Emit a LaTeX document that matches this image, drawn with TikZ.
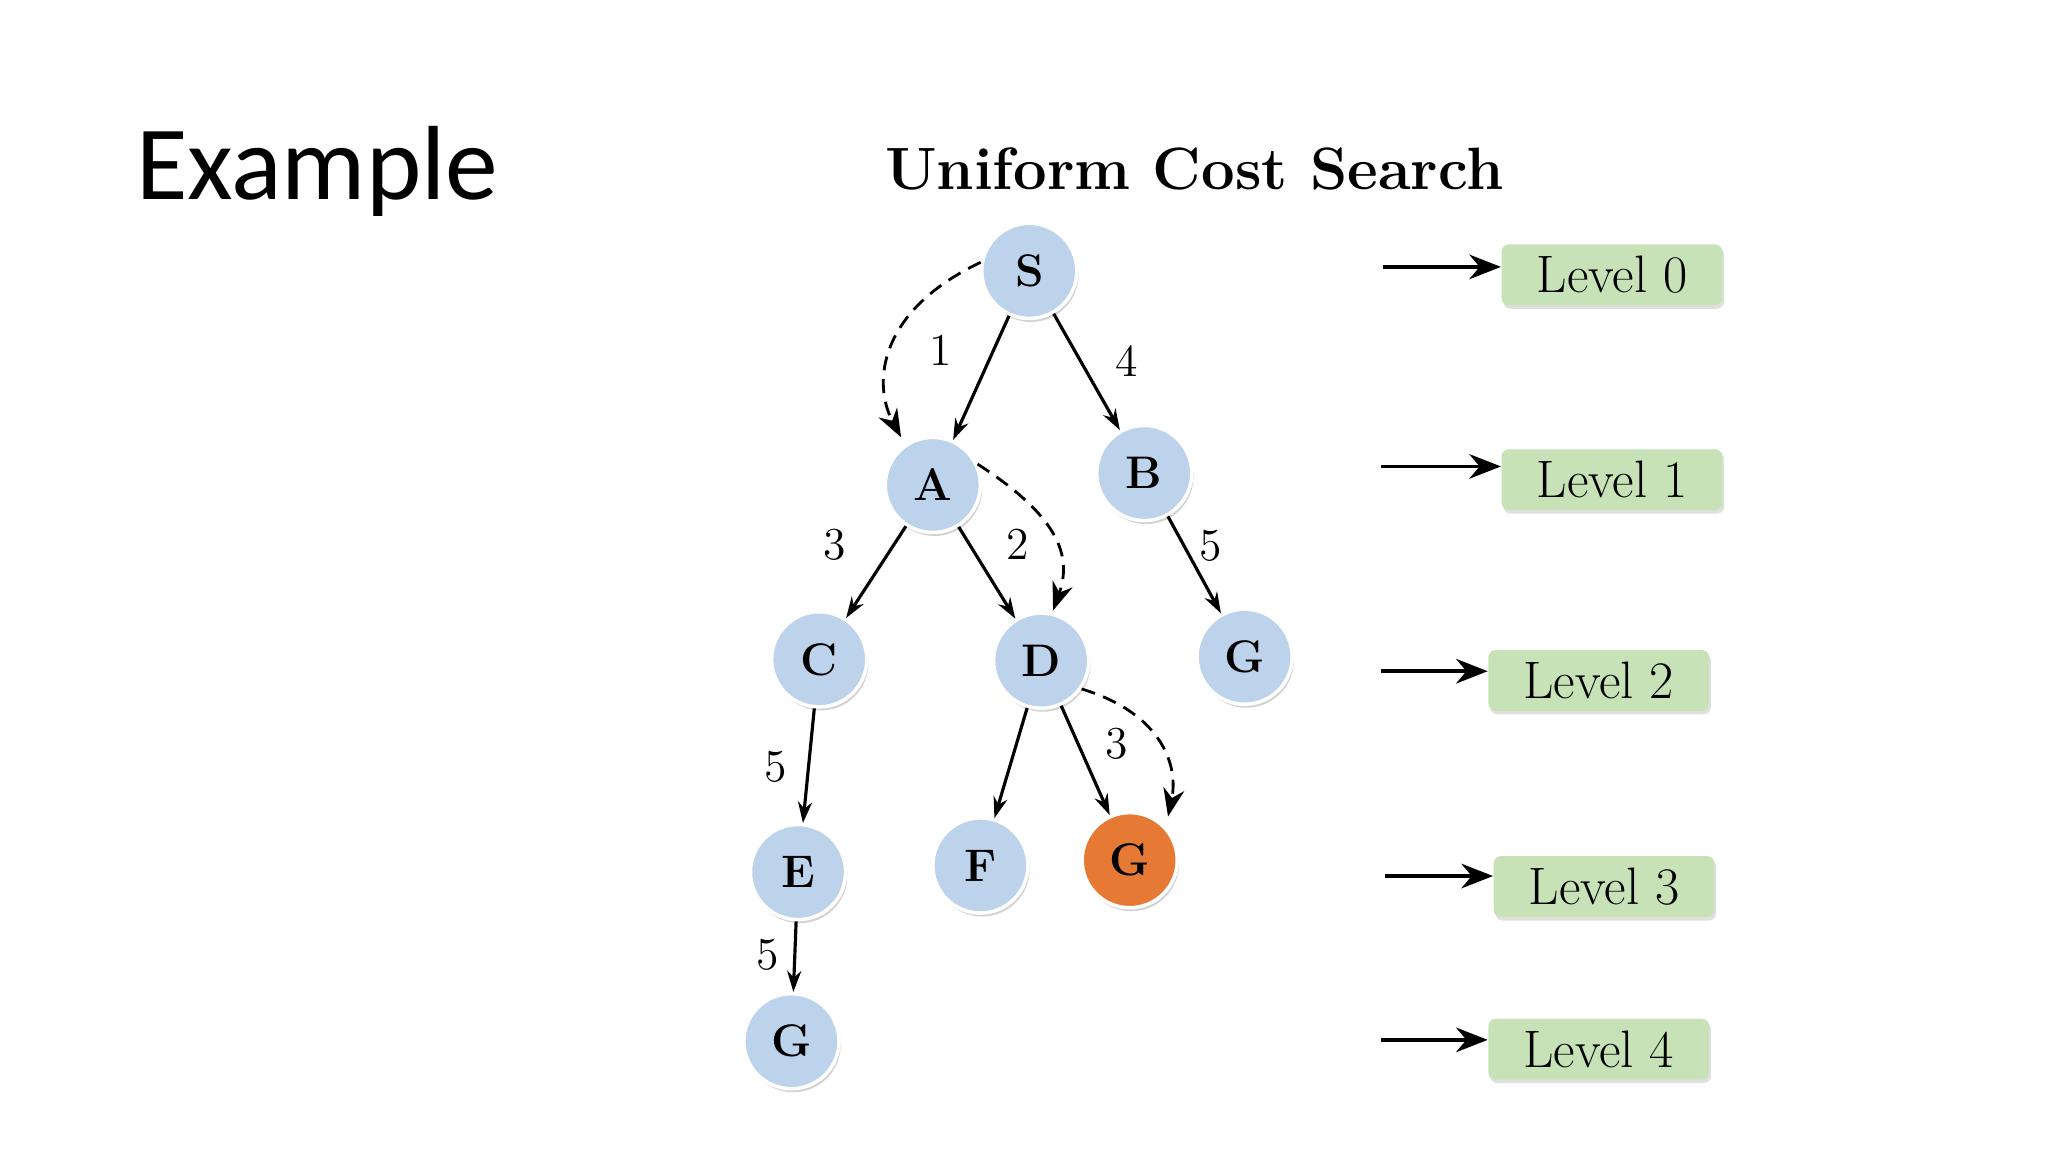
\documentclass[tikz,border=0pt]{standalone}
\usepackage{fontspec}
\newfontfamily\calib{Carlito}
\usetikzlibrary{arrows.meta,shadows}
\definecolor{nodeblue}{RGB}{189,210,235}
\definecolor{goalor}{RGB}{230,122,52}
\definecolor{lvgreen}{RGB}{200,226,184}
\tikzset{
 st/.style={circle,minimum size=72*0.013213cm,inner sep=0pt,fill=nodeblue,draw=white,line width=1pt,
   drop shadow={shadow xshift=0.5pt,shadow yshift=-1pt,fill=black!35},font=\fontsize{13}{15}\selectfont\bfseries},
 goal/.style={st,fill=goalor},
 lvl/.style={rectangle,rounded corners=2pt,fill=lvgreen,minimum width=167*0.013213cm,minimum height=46*0.013213cm,
   drop shadow={shadow xshift=0.5pt,shadow yshift=-1pt,fill=black!25},font=\fontsize{15}{17}\selectfont},
 ed/.style={-{Stealth[length=6pt,width=4pt]},line width=0.9pt},
 da/.style={-{Stealth[length=8pt,width=6pt]},line width=0.8pt,dashed,dash pattern=on 4pt off 2.5pt},
 la/.style={arrow/.style={},-{Stealth[length=9pt,width=7pt]},line width=1pt},
 lab/.style={font=\fontsize{13}{15}\selectfont}
}
\begin{document}
\begin{tikzpicture}[x=0.013213cm,y=-0.013213cm]
\useasboundingbox (0,0) rectangle (1550,872);
\node[font=\calib\fontsize{30}{34}\selectfont] (ex) at (240,130) {Example};
\node[font=\fontsize{17}{20}\selectfont\bfseries] (title) at (904,128) {Uniform Cost Search};
\node[st] (S) at (779,205) {S};
\node[st] (A) at (706,367) {A};
\node[st] (B) at (866,358) {B};
\node[st] (C) at (620,499) {C};
\node[st] (D) at (788,500) {D};
\node[st] (G1) at (942,497) {G};
\node[st] (E) at (604,660) {E};
\node[st] (F) at (742,655) {F};
\node[goal] (G2) at (855,651) {G};
\node[st] (G3) at (599,788) {G};
\draw[ed] (S) -- (A);
\draw[ed] (S) -- (B);
\draw[ed] (A) -- (C);
\draw[ed] (A) -- (D);
\draw[ed] (B) -- (G1);
\draw[ed] (C) -- (E);
\draw[ed] (D) -- (F);
\draw[ed] (D) -- (G2);
\draw[ed] (E) -- (G3);
\node[lab] (l1) at (712,265) {1};
\node[lab] (l2) at (853,273) {4};
\node[lab] (l3) at (632,412) {3};
\node[lab] (l4) at (770,412) {2};
\node[lab] (l5) at (916,413) {5};
\node[lab] (l6) at (587,580) {5};
\node[lab] (l7) at (845,563) {3};
\node[lab] (l8) at (581,723) {5};
\coordinate (d1) at (682,331);
\coordinate (d2) at (797,462);
\coordinate (d3) at (884,618);
\draw[da] (S.170) .. controls (665,235) and (660,290) .. (d1);
\draw[da] (A.25) .. controls (800,390) and (812,420) .. (d2);
\draw[da] (D.-35) .. controls (880,540) and (892,580) .. (d3);
\node[lvl] (L0) at (1220,208) {Level 0};
\node[lvl] (L1) at (1220,363) {Level 1};
\node[lvl] (L2) at (1210,515) {Level 2};
\node[lvl] (L3) at (1214,671) {Level 3};
\node[lvl] (L4) at (1210,794) {Level 4};
\coordinate (a0) at (1047,202);
\coordinate (a1) at (1045,353);
\coordinate (a2) at (1045,508);
\coordinate (a3) at (1048,663);
\coordinate (a4) at (1045,787);
\draw[la] (a0) -- (L0.west |- a0);
\draw[la] (a1) -- (L1.west |- a1);
\draw[la] (a2) -- (L2.west |- a2);
\draw[la] (a3) -- (L3.west |- a3);
\draw[la] (a4) -- (L4.west |- a4);
\end{tikzpicture}
\end{document}
